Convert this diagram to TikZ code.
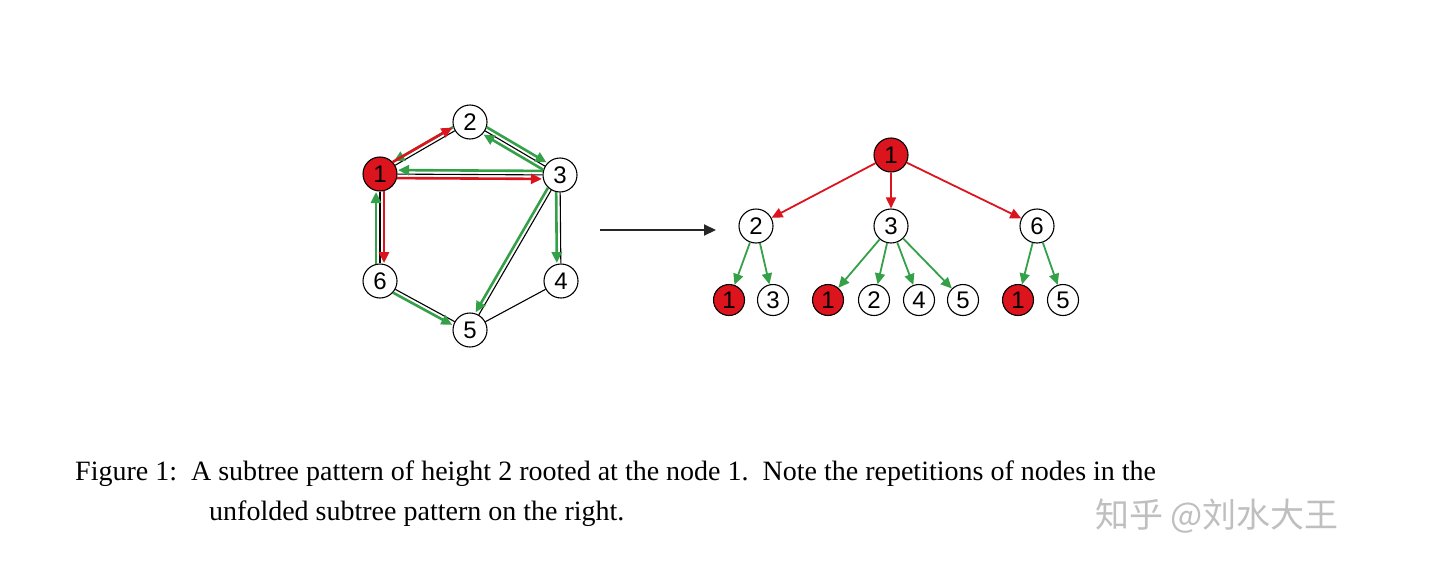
\documentclass[tikz,border=0pt]{standalone}
\usepackage{fontspec}
\setmainfont{Liberation Serif}
\newfontfamily\numf{Liberation Sans}
\newfontfamily\cjk{Noto Sans CJK SC}
\usetikzlibrary{calc,arrows.meta}
\definecolor{gr}{RGB}{52,160,72}
\definecolor{rd}{RGB}{220,20,30}
\begin{document}
\begin{tikzpicture}[x=1pt,y=-1pt,
  v/.style={circle,draw=black,line width=1.1pt,minimum size=34pt,inner sep=0pt,font=\numf\fontsize{24}{24}\selectfont,fill=white},
  vr/.style={v,fill=rd},
  lv/.style={v,minimum size=31pt},
  lvr/.style={lv,fill=rd},
  ge/.style={gr,line width=2.6pt,-{Triangle[length=11pt,width=10pt]}},
  re/.style={rd,line width=2.6pt,-{Triangle[length=11pt,width=10pt]}},
  te/.style={line width=1.8pt,-{Triangle[length=11pt,width=10pt]}},
  be/.style={black,line width=1.1pt}]
\useasboundingbox (0,0) rectangle (1440,573);
% left graph
\node[v] (n2) at (470,122) {2};
\node[vr] (n1) at (380,174) {1};
\node[v] (n3) at (560,175) {3};
\node[v] (n6) at (380,281) {6};
\node[v] (n4) at (561,281) {4};
\node[v] (n5) at (470,330) {5};
\foreach \a/\b in {n1/n2,n2/n3,n1/n3,n3/n4,n3/n5,n1/n6,n6/n5,n4/n5}
  \draw[be] (\a) -- (\b);
\foreach \a/\b/\o/\s in {n2/n1/-4/ge,n1/n2/4/re,n2/n3/4/ge,n3/n2/4/ge,n3/n1/-4/ge,n1/n3/-4/re,n3/n4/-4/ge,n3/n5/-4/ge,n6/n1/4/ge,n1/n6/4/re,n6/n5/-4/ge}
  \draw[\s] ($(\a)!17pt!(\b)!\o pt!90:(\b)$) -- ($(\b)!18pt!(\a)!\o pt!-90:(\a)$);
% middle arrow
\coordinate (as) at (600,230);
\coordinate (ae) at (716,230);
\draw[line width=2pt,-{Triangle[length=12pt,width=11pt]},color=black!85] (as) -- (ae);
% tree
\node[vr] (t1) at (891,155) {1};
\node[v] (t2) at (756,226) {2};
\node[v] (t3) at (891,226) {3};
\node[v] (t6) at (1037,226) {6};
\node[lvr] (l1) at (729,300) {1};
\node[lv] (l2) at (773,300) {3};
\node[lvr] (l3) at (828,300) {1};
\node[lv] (l4) at (874,300) {2};
\node[lv] (l5) at (919,300) {4};
\node[lv] (l6) at (963,300) {5};
\node[lvr] (l7) at (1018,300) {1};
\node[lv] (l8) at (1063,300) {5};
\foreach \b in {t2,t3,t6} \draw[te,rd] (t1) -- (\b);
\foreach \a/\b in {t2/l1,t2/l2,t3/l3,t3/l4,t3/l5,t3/l6,t6/l7,t6/l8} \draw[te,gr] (\a) -- (\b);
% caption
\node[anchor=base west,inner sep=0pt,font=\fontsize{28}{28}\selectfont] (c1) at (75,480) {Figure 1:\ \ A subtree pattern of height 2 rooted at the node 1.\ \ Note the repetitions of nodes in the};
\node[anchor=base west,inner sep=0pt,font=\fontsize{28}{28}\selectfont] (c2) at (209,520) {unfolded subtree pattern on the right.};
\node[anchor=base west,inner sep=0pt,font=\cjk\fontsize{34}{34}\selectfont,text=black!25] (wm) at (1095,527) {知乎 @刘水大王};
\end{tikzpicture}
\end{document}
